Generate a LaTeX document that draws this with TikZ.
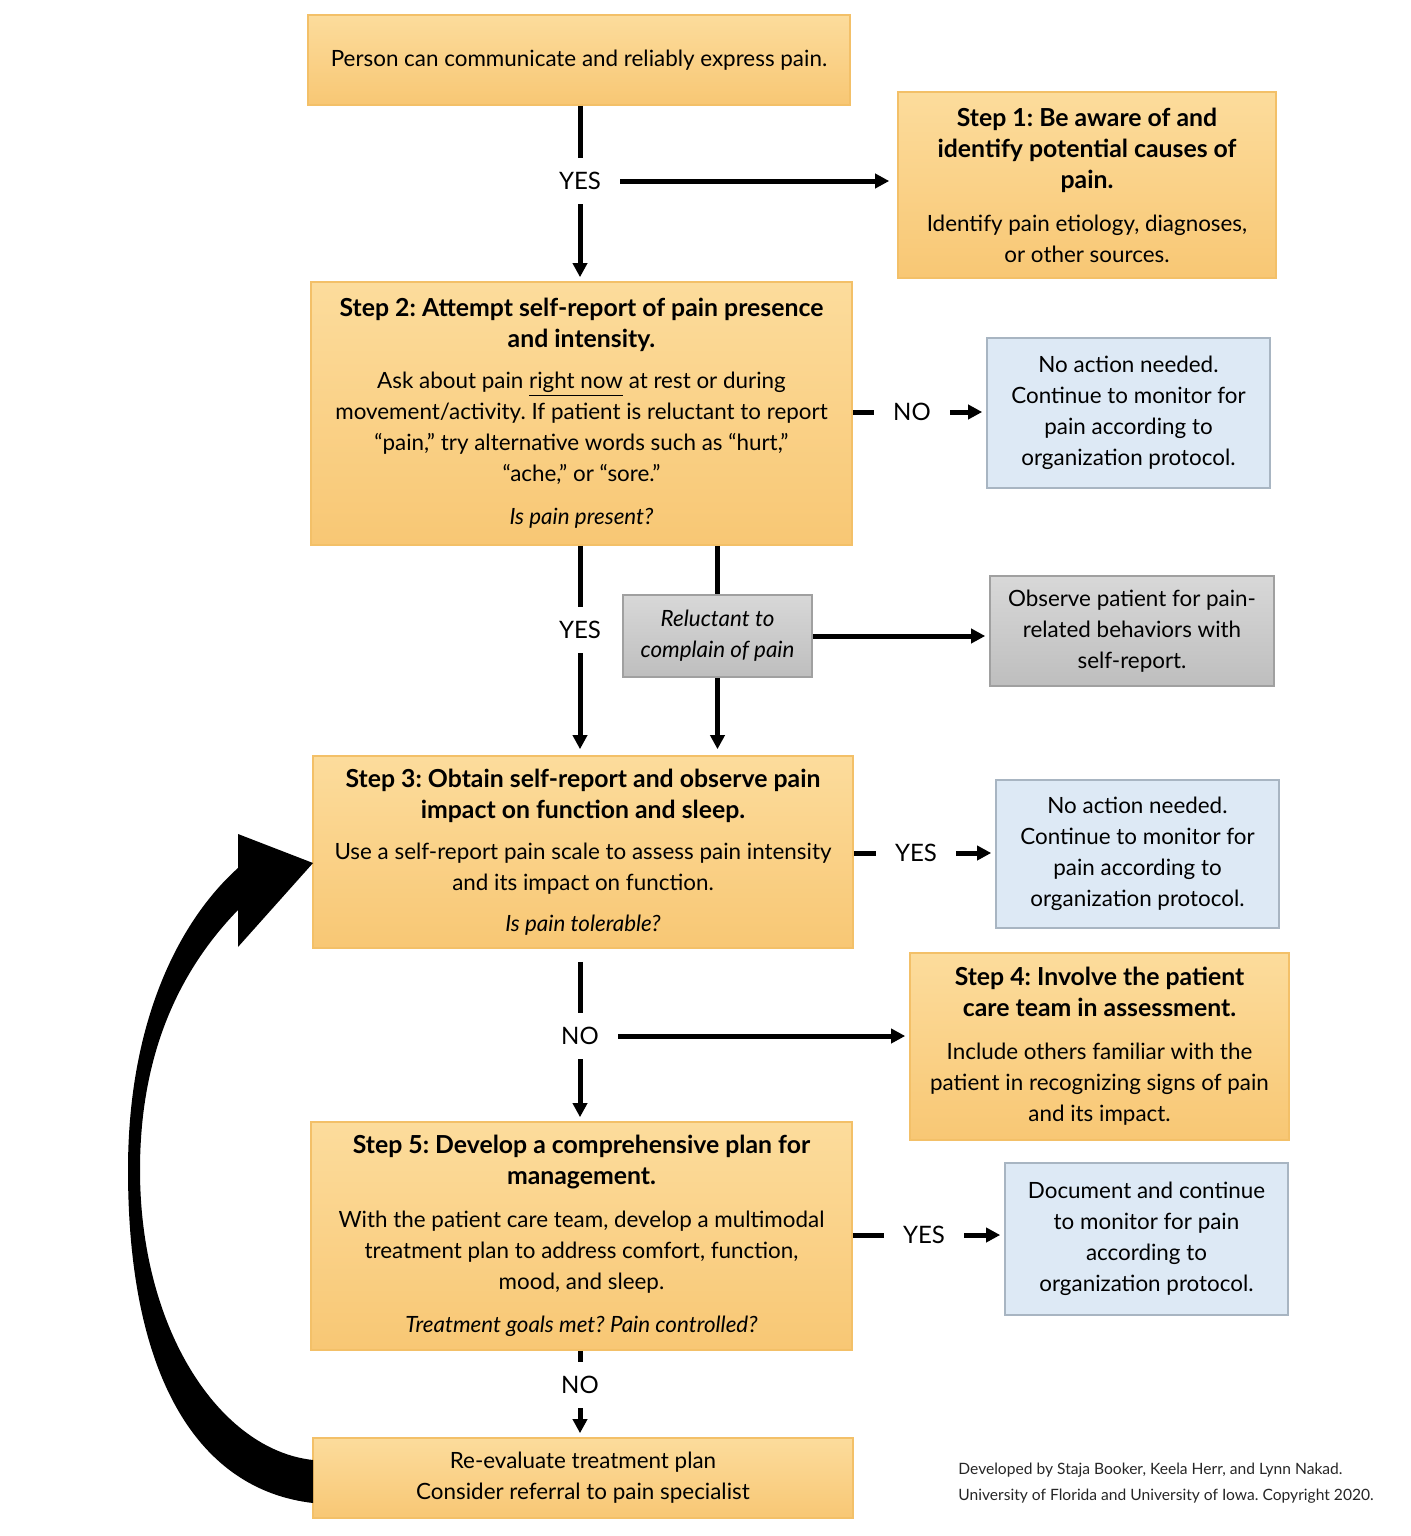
\documentclass[tikz,border=0pt]{standalone}
\usepackage{fontspec}
\setmainfont{Lato}
\usetikzlibrary{arrows.meta}
\definecolor{stepTop}{RGB}{252,220,156}
\definecolor{stepBot}{RGB}{248,199,116}
\definecolor{stepEdge}{RGB}{243,192,104}
\definecolor{infoFill}{RGB}{221,233,245}
\definecolor{infoEdge}{RGB}{168,181,194}
\definecolor{obsTop}{RGB}{216,216,216}
\definecolor{obsBot}{RGB}{190,190,190}
\definecolor{obsEdge}{RGB}{160,160,160}
\newcommand{\hd}[1]{{\fontsize{12.4}{15.5}\selectfont\bfseries #1}}
\frenchspacing
\begin{document}
\begin{tikzpicture}[x=0.5pt, y=-0.5pt,
  stepbox/.style={draw=stepEdge, line width=0.8pt, top color=stepTop, bottom color=stepBot,
    align=center, inner sep=0pt, font=\fontsize{11.2}{15.5}\selectfont},
  infobox/.style={draw=infoEdge, line width=0.8pt, fill=infoFill,
    align=center, inner sep=0pt, font=\fontsize{11.2}{15.5}\selectfont},
  obsbox/.style={draw=obsEdge, line width=0.8pt, top color=obsTop, bottom color=obsBot,
    align=center, inner sep=0pt, font=\fontsize{11.2}{15.5}\selectfont},
  answer/.style={font=\fontsize{12}{12}\selectfont, inner xsep=9.5pt, inner ysep=7pt},
  conn/.style={line width=2.5pt},
  arr/.style={conn, -{Triangle[length=7pt,width=7pt]}, shorten >=2pt}]
\useasboundingbox (0,0) rectangle (1411,1536);

% boxes
\node[stepbox, minimum width=271pt, minimum height=45pt] (start) at (579,60)
  {Person can communicate and reliably express pain.};
\node[stepbox, minimum width=189pt, minimum height=93pt] (s1) at (1087,185)
  {\hd{Step 1: Be aware of and}\\ \hd{identify potential causes of}\\ \hd{pain.}\\[6pt]
   Identify pain etiology, diagnoses,\\ or other sources.};
\node[stepbox, minimum width=270.5pt, minimum height=131.5pt] (s2) at (581.5,413.5)
  {\hd{Step 2: Attempt self-report of pain presence}\\ \hd{and intensity.}\\[5pt]
   Ask about pain \underline{right now} at rest or during\\
   movement/activity. If patient is reluctant to report\\
   “pain,” try alternative words such as “hurt,”\\
   “ache,” or “sore.”\\[6pt]
   \textit{Is pain present?}};
\node[infobox, minimum width=141.5pt, minimum height=75pt] (none1) at (1128.5,413)
  {No action needed.\\ Continue to monitor for\\ pain according to\\ organization protocol.};
\node[obsbox, minimum width=94.5pt, minimum height=41pt] (reluct) at (717.5,636)
  {\textit{Reluctant to}\\ \textit{complain of pain}};
\node[obsbox, minimum width=142pt, minimum height=55pt] (observe) at (1132,631)
  {Observe patient for pain-\\ related behaviors with\\ self-report.};
\node[stepbox, minimum width=270pt, minimum height=96pt] (s3) at (583,852)
  {\hd{Step 3: Obtain self-report and observe pain}\\ \hd{impact on function and sleep.}\\[5pt]
   Use a self-report pain scale to assess pain intensity\\ and its impact on function.\\[5pt]
   \textit{Is pain tolerable?}};
\node[infobox, minimum width=141.5pt, minimum height=74pt] (none2) at (1137.5,854)
  {No action needed.\\ Continue to monitor for\\ pain according to\\ organization protocol.};
\node[stepbox, minimum width=189.5pt, minimum height=93.5pt] (s4) at (1099.5,1046.5)
  {\hd{Step 4: Involve the patient}\\ \hd{care team in assessment.}\\[6pt]
   Include others familiar with the\\ patient in recognizing signs of pain\\ and its impact.};
\node[stepbox, minimum width=270.5pt, minimum height=114pt] (s5) at (581.5,1236)
  {\hd{Step 5: Develop a comprehensive plan for}\\ \hd{management.}\\[6pt]
   With the patient care team, develop a multimodal\\
   treatment plan to address comfort, function,\\ mood, and sleep.\\[6pt]
   \textit{Treatment goals met? Pain controlled?}};
\node[infobox, minimum width=141.5pt, minimum height=76pt] (docu) at (1146.5,1239)
  {Document and continue\\ to monitor for pain\\ according to\\ organization protocol.};
\node[stepbox, minimum width=270pt, minimum height=40pt] (reeval) at (583,1478)
  {Re-evaluate treatment plan\\ Consider referral to pain specialist};
\node[anchor=west, align=left, inner sep=0pt, text=black!85,
  font=\fontsize{7.8}{13}\selectfont] (credit) at (958,1483)
  {Developed by Staja Booker, Keela Herr, and Lynn Nakad.\\
   University of Florida and University of Iowa. Copyright 2020.};

% answers
\node[answer] (yes1) at (580,181) {YES};
\node[answer] (no1) at (912,412) {NO};
\node[answer] (yes2) at (580,630) {YES};
\node[answer] (yes3) at (916,853) {YES};
\node[answer] (no2) at (580,1036) {NO};
\node[answer] (yes4) at (924,1235) {YES};
\node[answer] (no3) at (580,1385) {NO};

% connectors
\draw[conn] (start.south -| yes1.north) -- (yes1.north);
\draw[arr] (yes1.south) -- (yes1.south |- s2.north);
\draw[arr, shorten >=4pt] (yes1.east) -- (s1.west |- yes1.east);
\draw[conn] (s2.east |- no1.west) -- (no1.west);
\draw[arr] (no1.east) -- (none1.west |- no1.east);
\draw[conn] (s2.south -| yes2.north) -- (yes2.north);
\draw[arr, shorten >=3pt] (yes2.south) -- (yes2.south |- s3.north);
\draw[conn] (s2.south -| reluct.north) -- (reluct.north);
\draw[arr, shorten >=3pt] (reluct.south) -- (reluct.south |- s3.north);
\draw[arr] (reluct.east) -- (observe.west |- reluct.east);
\draw[conn] (s3.east |- yes3.west) -- (yes3.west);
\draw[arr] (yes3.east) -- (none2.west |- yes3.east);
\draw[conn, shorten <=6.5pt] (s3.south -| no2.north) -- (no2.north);
\draw[arr] (no2.south) -- (no2.south |- s5.north);
\draw[arr] (no2.east) -- (s4.west |- no2.east);
\draw[conn] (s5.east |- yes4.west) -- (yes4.west);
\draw[arr] (yes4.east) -- (docu.west |- yes4.east);
\draw[conn] (s5.south -| no3.north) -- (no3.north);
\draw[arr] (no3.south) -- (no3.south |- reeval.north);

% loop back arrow
\fill[black] (313,1503) .. controls (200,1490) and (128,1380) .. (128,1170)
  .. controls (128,1020) and (180,920) .. (238,868)
  -- (238,834) -- (313,863) -- (238,947) -- (238,910)
  .. controls (175,975) and (140,1060) .. (140,1170)
  .. controls (140,1330) and (220,1450) .. (313,1460) -- cycle;
\end{tikzpicture}
\end{document}
